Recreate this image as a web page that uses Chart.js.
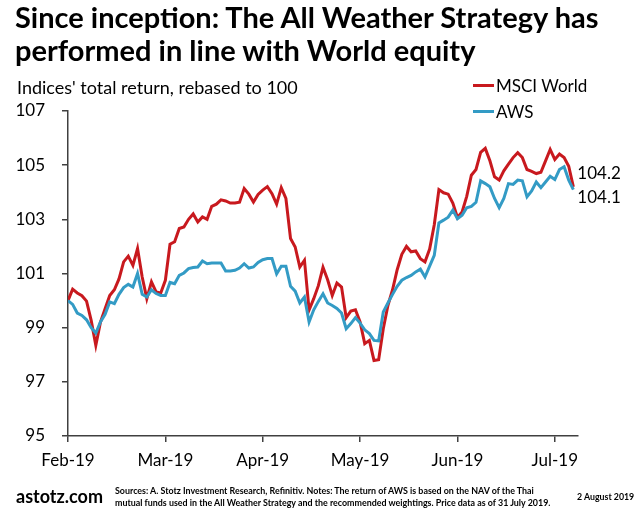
<!DOCTYPE html>
<html lang="en">
<head>
    <meta charset="UTF-8" />
    <title>All Weather Strategy vs MSCI World</title>
    <script src="https://cdn.jsdelivr.net/npm/chart.js"></script>
    <style>
        body { margin: 0; background: #fff; font-family: Lato, sans-serif; color: #000; }
        .page { position: relative; width: 644px; height: 513px; overflow: hidden; }
        #grafico { position: absolute; left: 0; top: 0; }
        h1 { position: absolute; left: 15px; top: 0; margin: 0; font-size: 29px; line-height: 33px; font-weight: 700; }
        .sub { position: absolute; left: 17px; top: 76px; font-size: 18px; }
        .legend { position: absolute; left: 473px; top: 72px; font-size: 17px; }
        .legend div { height: 26px; display: flex; align-items: center; }
        .legend i { display: inline-block; width: 21px; height: 3px; margin-right: 2px; }
        .brand { position: absolute; left: 16px; top: 485px; font-size: 18px; font-weight: 700; }
        .notes { position: absolute; left: 115px; top: 485px; font-size: 8.9px; line-height: 11.5px; font-weight: 700; }
        .date { position: absolute; left: 577px; top: 491px; font-size: 8.8px; font-weight: 700; }
    </style>
</head>
<body>
<div class="page">
    <canvas id="grafico" width="644" height="513"></canvas>
    <h1>Since inception: The All Weather Strategy has<br>performed in line with World equity</h1>
    <div class="sub">Indices' total return, rebased to 100</div>
    <div class="legend" id="legenda"></div>
    <div class="brand">astotz.com</div>
    <div class="notes">Sources: A. Stotz Investment Research, Refinitiv. Notes: The return of AWS is based on the NAV of the Thai<br>mutual funds used in the All Weather Strategy and the recommended weightings. Price data as of 31 July 2019.</div>
    <div class="date">2 August 2019</div>
</div>

<script>
const seriesNames = ['MSCI World', 'AWS'];
const seriesColors = ['#c8191e', '#339bc5'];
const monthLabels = ['Feb-19', 'Mar-19', 'Apr-19', 'May-19', 'Jun-19', 'Jul-19'];
const pointsPerMonth = 21;
const yTicks = [95, 97, 99, 101, 103, 105, 107];

const msciWorld = [
    100.0, 100.42, 100.28, 100.18, 99.98, 99.27, 98.35, 99.2, 99.7, 100.19,
    100.4, 100.8, 101.43, 101.64, 101.3, 101.92, 100.87, 100.07, 100.69, 100.32,
    100.28, 100.75, 102.08, 102.17, 102.66, 102.72, 103.0, 103.2, 102.9, 103.09,
    103.0, 103.48, 103.56, 103.72, 103.68, 103.6, 103.6, 103.63, 104.14, 103.93,
    103.64, 103.92, 104.08, 104.21, 103.95, 103.56, 104.17, 103.77, 102.29, 101.98,
    101.24, 101.49, 99.65, 100.07, 100.55, 101.23, 100.77, 100.19, 100.65, 100.5,
    99.37, 99.61, 99.66, 99.21, 98.41, 98.53, 97.79, 97.82, 98.96, 99.82,
    100.4, 101.14, 101.71, 102.0, 101.8, 101.83, 101.55, 101.43, 101.9, 102.8,
    104.1, 103.98, 103.93, 103.6, 103.07, 103.27, 103.85, 104.63, 104.84, 105.47,
    105.62, 105.16, 104.57, 104.45, 104.79, 105.04, 105.28, 105.46, 105.28, 104.84,
    104.77, 104.69, 104.74, 105.16, 105.58, 105.21, 105.41, 105.28, 104.96, 104.2
];

const aws = [
    100.0, 99.86, 99.54, 99.45, 99.29, 99.0, 98.8, 99.21, 99.49, 99.95,
    99.89, 100.23, 100.48, 100.6, 100.5, 101.0, 100.23, 100.13, 100.4, 100.26,
    100.19, 100.19, 100.67, 100.62, 100.93, 101.02, 101.18, 101.22, 101.24, 101.46,
    101.36, 101.39, 101.39, 101.39, 101.09, 101.09, 101.12, 101.2, 101.36, 101.2,
    101.24, 101.41, 101.51, 101.55, 101.55, 100.99, 101.27, 101.27, 100.53, 100.35,
    99.91, 100.13, 99.21, 99.66, 99.97, 100.25, 99.91, 99.82, 99.71, 99.54,
    98.96, 99.15, 99.37, 99.17, 98.92, 98.78, 98.53, 98.51, 99.58, 99.91,
    100.23, 100.53, 100.75, 100.85, 100.93, 101.06, 101.16, 100.87, 101.27, 101.67,
    102.87, 102.97, 103.08, 103.34, 103.02, 103.15, 103.43, 103.48, 103.63, 104.42,
    104.32, 104.2, 103.77, 103.43, 103.77, 104.32, 104.29, 104.45, 104.42, 103.83,
    104.05, 104.38, 104.17, 104.38, 104.59, 104.47, 104.84, 104.94, 104.45, 104.1
];

// legenda em HTML
document.getElementById('legenda').innerHTML = seriesNames
    .map((n, k) => `<div><i style="background:${seriesColors[k]}"></i>${n}</div>`)
    .join('');

// rótulo com o último valor de cada série
const endLabels = {
    id: 'endLabels',
    afterDatasetsDraw(chart) {
        const ctx = chart.ctx;
        ctx.save();
        ctx.font = '17px Lato';
        ctx.fillStyle = '#000';
        ctx.textBaseline = 'middle';
        chart.data.datasets.forEach((ds, k) => {
            const meta = chart.getDatasetMeta(k);
            const pt = meta.data[meta.data.length - 1];
            const v = ds.data[ds.data.length - 1].y;
            ctx.fillText(v.toFixed(1), pt.x + 4, pt.y + ds.endLabelDy);
        });
        ctx.restore();
    }
};

const toPoints = arr => arr.map((v, i) => ({ x: i, y: v }));
const axisColor = '#404040';

const ctx = document.getElementById('grafico').getContext('2d');
const grafico = new Chart(ctx, {
    type: 'line',
    data: {
        datasets: [{
            label: seriesNames[0],
            data: toPoints(msciWorld),
            borderColor: seriesColors[0],
            borderWidth: 3,
            pointRadius: 0,
            tension: 0,
            order: 1,
            endLabelDy: -13
        }, {
            label: seriesNames[1],
            data: toPoints(aws),
            borderColor: seriesColors[1],
            borderWidth: 3,
            pointRadius: 0,
            tension: 0,
            order: 0,
            endLabelDy: 8
        }]
    },
    options: {
        responsive: false,
        animation: false,
        layout: { padding: { left: 0, top: 111, right: 66, bottom: 40 } },
        plugins: { legend: { display: false }, tooltip: { enabled: false } },
        scales: {
            x: {
                type: 'linear',
                min: 0,
                max: 110,
                afterBuildTicks: s => { s.ticks = monthLabels.map((m, k) => ({ value: k * pointsPerMonth })); },
                afterFit: s => { s.height = 37; },
                border: { color: axisColor, width: 1.5 },
                grid: { drawOnChartArea: false, drawTicks: true, tickLength: 6, color: axisColor, lineWidth: 1.5 },
                ticks: {
                    color: '#000',
                    font: { family: 'Lato', size: 17 },
                    padding: 8,
                    maxRotation: 0,
                    callback: (v, i) => monthLabels[i]
                }
            },
            y: {
                min: 95,
                max: 107,
                afterBuildTicks: s => { s.ticks = yTicks.map(v => ({ value: v })); },
                afterFit: s => { s.width = 68; },
                border: { color: axisColor, width: 1.5 },
                grid: { drawOnChartArea: false, drawTicks: true, tickLength: 6, color: axisColor, lineWidth: 1.5 },
                ticks: {
                    color: '#000',
                    font: { family: 'Lato', size: 17 },
                    padding: 17
                }
            }
        }
    },
    plugins: [endLabels]
});
</script>
</body>
</html>
